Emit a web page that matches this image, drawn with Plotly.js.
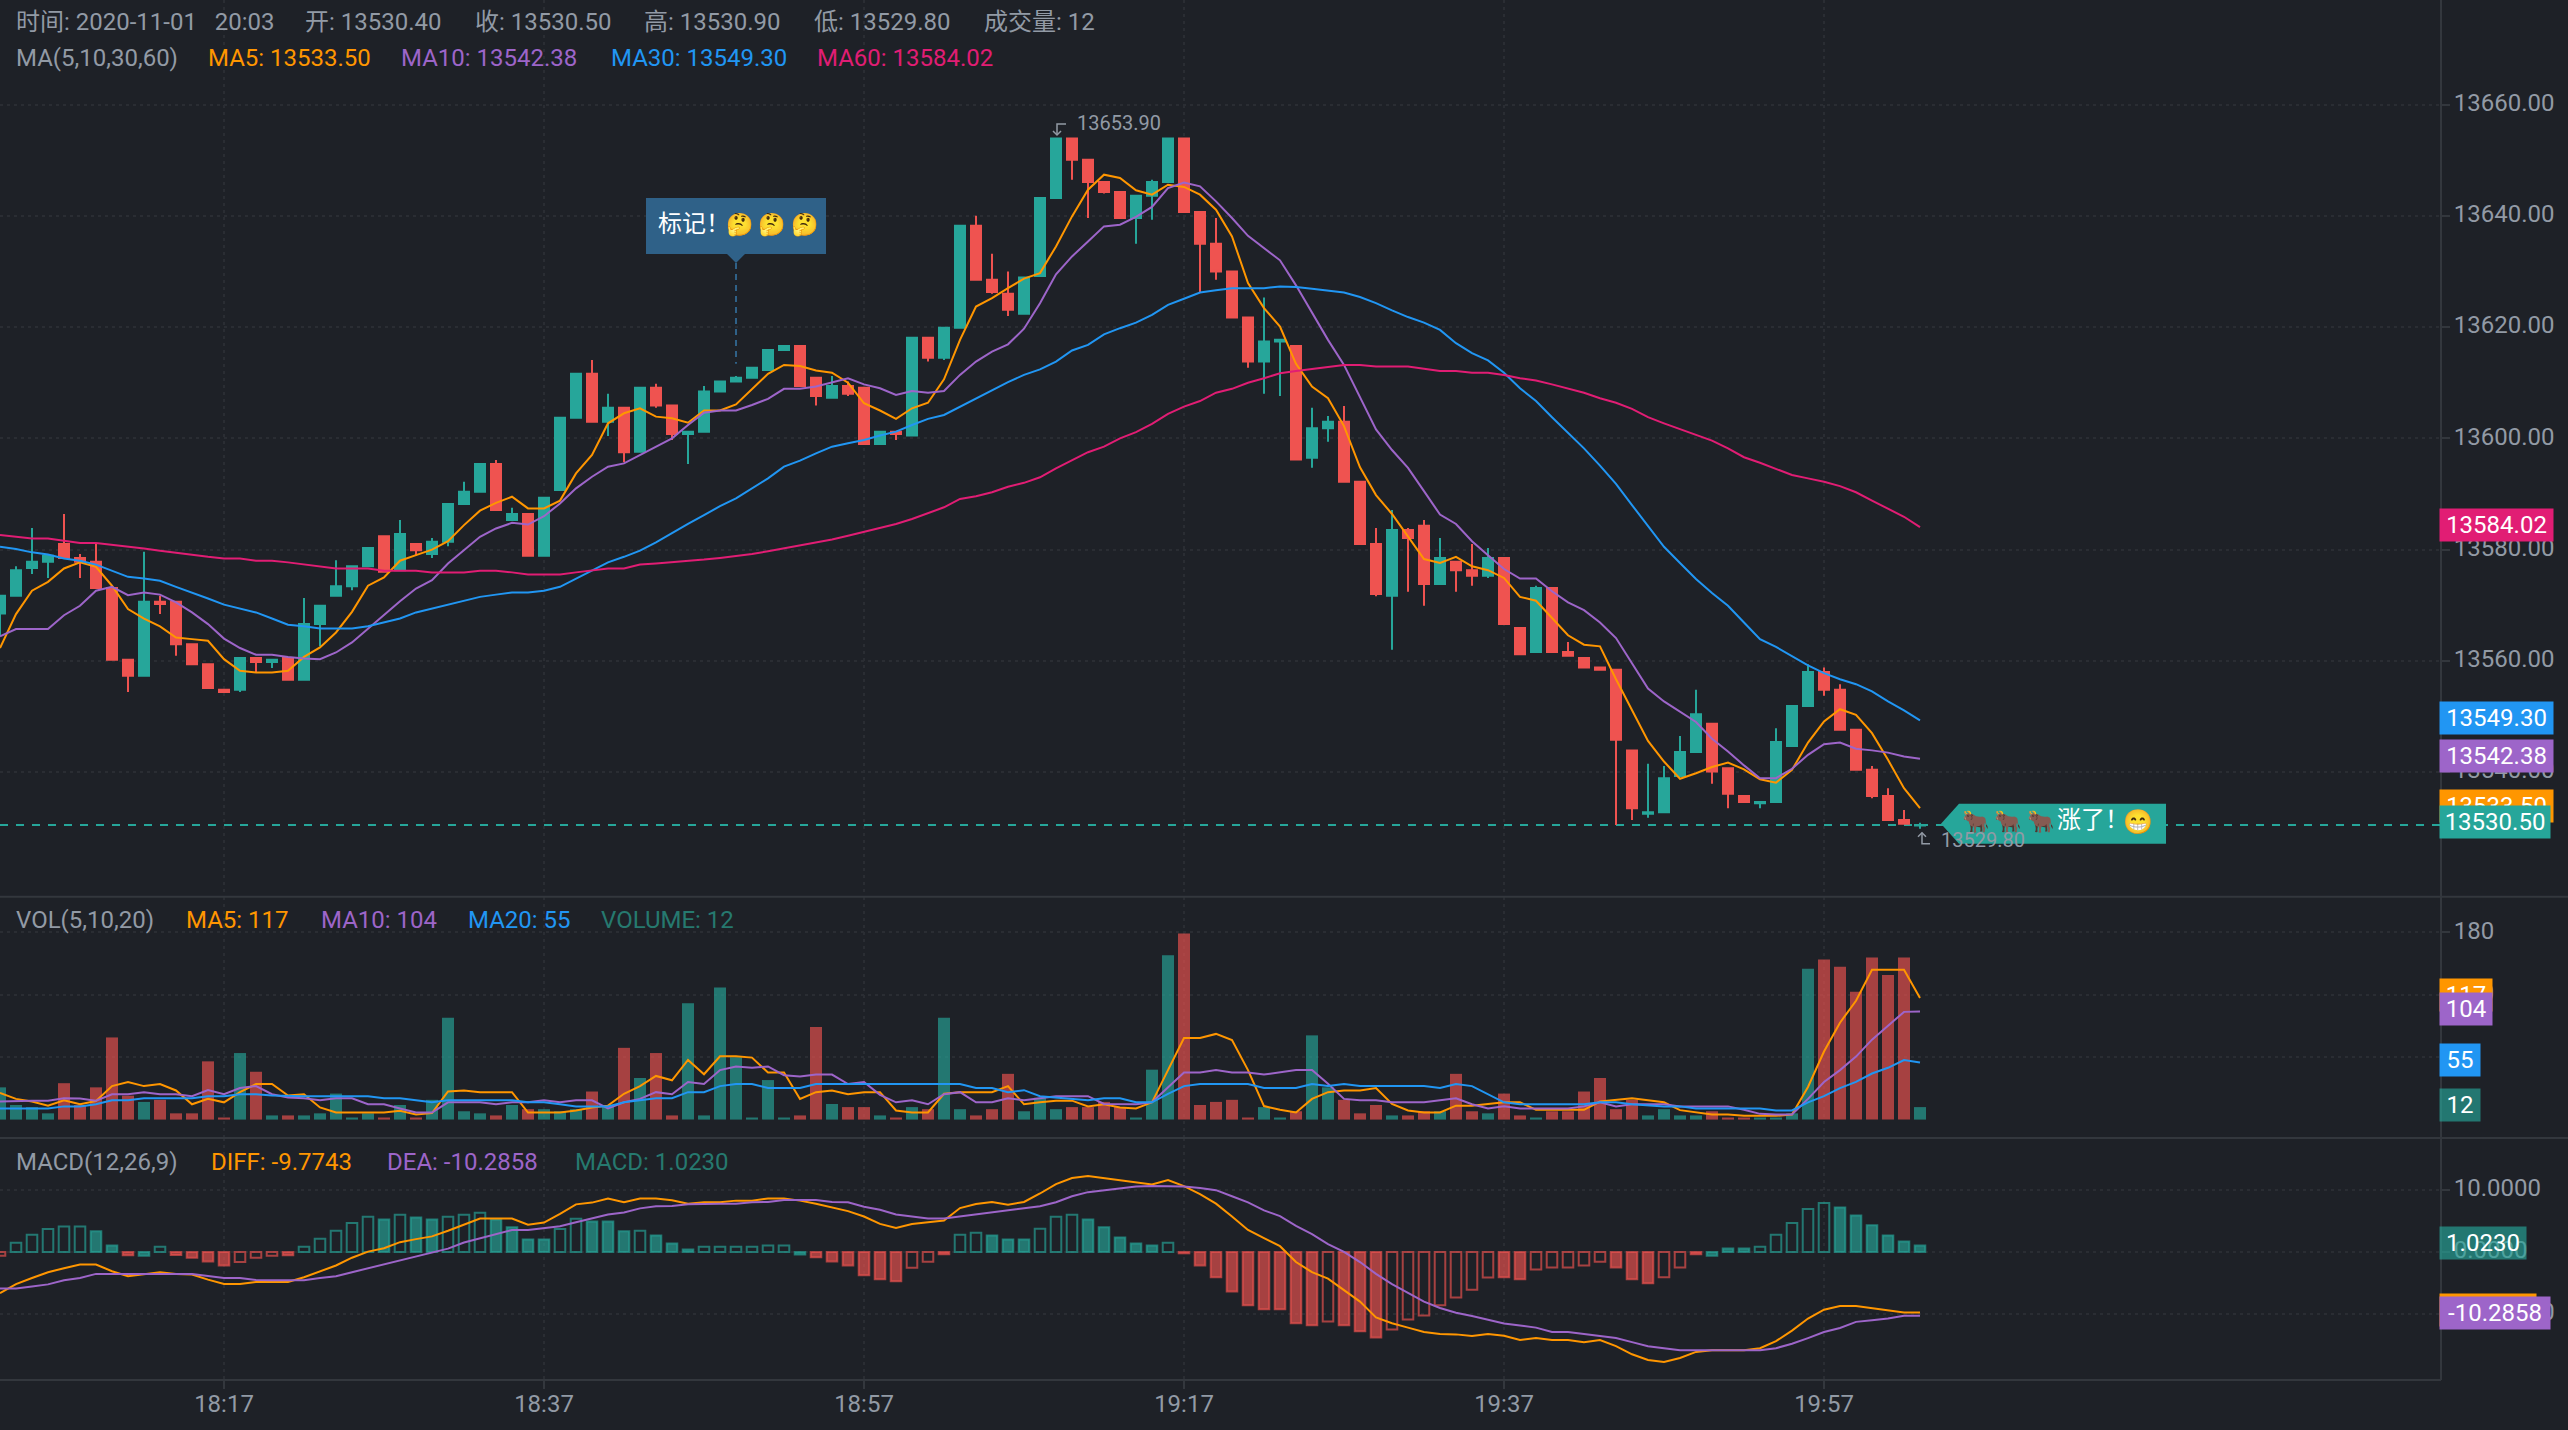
<!DOCTYPE html>
<html><head><meta charset="utf-8">
<script src="https://cdn.plot.ly/plotly-3.0.1.min.js"></script>
<style>html,body{margin:0;padding:0;background:#1E2127}#chart{width:2568px;height:1430px}</style>
</head><body><div id="chart"></div>
<script>
const times=["18:03","18:04","18:05","18:06","18:07","18:08","18:09","18:10","18:11","18:12","18:13","18:14","18:15","18:16","18:17","18:18","18:19","18:20","18:21","18:22","18:23","18:24","18:25","18:26","18:27","18:28","18:29","18:30","18:31","18:32","18:33","18:34","18:35","18:36","18:37","18:38","18:39","18:40","18:41","18:42","18:43","18:44","18:45","18:46","18:47","18:48","18:49","18:50","18:51","18:52","18:53","18:54","18:55","18:56","18:57","18:58","18:59","19:00","19:01","19:02","19:03","19:04","19:05","19:06","19:07","19:08","19:09","19:10","19:11","19:12","19:13","19:14","19:15","19:16","19:17","19:18","19:19","19:20","19:21","19:22","19:23","19:24","19:25","19:26","19:27","19:28","19:29","19:30","19:31","19:32","19:33","19:34","19:35","19:36","19:37","19:38","19:39","19:40","19:41","19:42","19:43","19:44","19:45","19:46","19:47","19:48","19:49","19:50","19:51","19:52","19:53","19:54","19:55","19:56","19:57","19:58","19:59","20:00","20:01","20:02","20:03"];
const timeTicks=["18:17","18:37","18:57","19:17","19:37","19:57"];
const open=[13568.5,13571.7,13576.7,13577.8,13581.0,13578.5,13577.8,13573.1,13560.2,13557.3,
13570.6,13570.6,13563.0,13559.4,13554.8,13554.8,13560.5,13559.8,13560.5,13556.6,
13566.6,13571.7,13573.4,13577.0,13582.4,13576.3,13581.0,13579.2,13581.4,13588.2,
13590.4,13595.4,13585.3,13586.4,13578.9,13590.7,13603.7,13611.6,13603.0,13605.5,
13597.6,13609.1,13605.9,13600.8,13601.2,13608.4,13610.2,13610.9,13612.3,13615.9,
13616.6,13610.9,13607.3,13609.4,13609.1,13599.0,13601.2,13600.5,13618.1,13614.5,
13619.9,13638.2,13628.5,13626.0,13622.4,13629.2,13643.2,13653.9,13650.1,13646.1,
13644.3,13639.6,13643.6,13646.1,13653.9,13640.7,13635.0,13630.0,13621.7,13613.8,
13617.4,13616.6,13596.5,13601.8,13603.0,13592.2,13581.0,13571.7,13583.5,13584.3,
13573.8,13577.8,13576.3,13575.3,13578.5,13565.9,13561.6,13573.1,13561.6,13560.5,
13558.8,13558.4,13543.9,13532.5,13532.8,13539.3,13543.6,13548.7,13540.7,13535.7,
13534.4,13534.6,13544.7,13551.9,13558.0,13554.8,13547.6,13540.4,13535.7,13531.4,13530.4];
const close=[13571.7,13576.3,13577.8,13578.9,13578.5,13577.8,13573.1,13560.2,13557.3,13570.6,
13570.2,13563.0,13559.4,13555.1,13554.4,13560.5,13559.8,13560.2,13556.6,13566.6,
13569.9,13573.4,13577.0,13580.3,13576.0,13582.8,13579.9,13581.4,13588.2,13590.4,
13595.4,13587.1,13586.4,13578.9,13589.3,13603.7,13611.6,13603.0,13605.5,13597.5,
13609.1,13605.9,13600.8,13601.2,13608.4,13610.2,13610.9,13612.7,13615.9,13616.6,
13609.4,13607.6,13609.4,13608.0,13599.0,13601.2,13600.8,13618.1,13614.5,13619.9,
13638.2,13628.5,13626.3,13623.1,13628.9,13643.2,13653.9,13650.1,13646.1,13644.3,
13639.6,13643.6,13646.1,13653.9,13640.7,13635.0,13630.0,13621.7,13613.8,13617.4,
13617.7,13596.2,13601.8,13603.0,13592.2,13581.0,13572.0,13583.5,13582.1,13573.8,
13578.5,13576.3,13575.3,13578.5,13566.6,13561.2,13573.1,13561.6,13560.9,13558.8,
13558.4,13545.8,13533.5,13532.8,13538.9,13543.6,13550.4,13540.1,13536.1,13534.6,
13534.6,13545.4,13551.9,13558.0,13554.8,13547.6,13540.4,13535.7,13531.4,13530.7,13530.5];
const high=[13571.7,13577.0,13583.9,13578.9,13586.4,13579.2,13581.0,13573.1,13560.2,13579.6,
13571.7,13570.6,13563.0,13559.4,13554.8,13560.5,13560.5,13560.2,13560.5,13571.3,
13569.9,13578.1,13577.0,13580.3,13582.4,13585.3,13581.0,13582.1,13588.2,13592.2,
13595.4,13596.1,13587.5,13586.4,13589.3,13603.7,13611.6,13614.1,13608.0,13605.5,
13609.1,13609.8,13605.9,13601.2,13609.4,13610.2,13611.2,13612.7,13615.9,13616.6,
13616.6,13610.9,13611.2,13610.2,13609.1,13601.2,13601.2,13618.1,13618.1,13619.9,
13638.2,13640.0,13633.2,13630.0,13628.9,13643.2,13653.9,13653.9,13650.1,13646.1,
13644.3,13643.6,13646.5,13653.9,13653.9,13640.7,13639.6,13630.0,13621.7,13625.3,
13617.7,13616.6,13605.5,13604.0,13605.8,13592.2,13583.9,13587.1,13583.9,13585.3,
13582.1,13577.8,13581.0,13580.3,13578.5,13565.9,13573.5,13573.1,13563.4,13560.5,
13558.8,13558.4,13543.9,13541.5,13541.1,13546.5,13554.8,13548.7,13540.7,13535.7,
13534.6,13547.9,13551.9,13559.4,13558.8,13555.8,13547.6,13541.1,13537.1,13533.2,13530.9];
const low=[13564.4,13571.7,13575.6,13574.9,13578.5,13574.9,13573.1,13560.2,13554.4,13557.3,
13568.4,13560.9,13559.4,13555.1,13554.4,13554.4,13558.0,13558.7,13556.6,13556.6,
13562.6,13571.7,13572.7,13577.0,13576.0,13576.3,13578.9,13578.5,13580.6,13588.2,
13590.4,13587.1,13585.3,13578.9,13578.9,13590.7,13603.7,13603.0,13600.4,13595.7,
13597.6,13605.5,13599.7,13595.4,13601.2,13608.4,13610.2,13610.9,13612.3,13615.9,
13609.4,13605.9,13607.3,13607.6,13599.0,13599.0,13599.7,13600.5,13613.8,13614.1,
13619.9,13628.5,13626.0,13622.0,13622.4,13629.2,13643.2,13646.5,13639.6,13644.0,
13639.6,13635.0,13639.3,13646.1,13640.7,13626.3,13628.5,13621.7,13612.7,13608.0,
13607.6,13596.2,13594.7,13599.4,13592.2,13581.0,13571.6,13562.0,13572.4,13569.9,
13573.8,13572.4,13573.5,13574.9,13566.6,13561.2,13561.6,13561.6,13560.9,13558.8,
13558.4,13530.5,13531.4,13531.8,13532.8,13539.3,13543.6,13537.9,13533.5,13534.6,
13533.5,13534.6,13544.7,13551.9,13553.7,13547.6,13540.4,13535.3,13531.4,13530.7,13529.8];
const ma5=[13562.3,13568.4,13572.6,13574.2,13576.6,13577.7,13576.9,13573.5,13569.3,13567.6,
13566.2,13564.2,13563.9,13563.6,13560.3,13558.2,13557.9,13557.9,13558.2,13560.7,
13562.4,13565.1,13568.8,13573.5,13575,13578,13579,13580,13581.5,13584.4,
13587,13588.4,13589.5,13587.4,13587.4,13588.8,13593.7,13597,13602.7,13604.5,
13605.4,13603.9,13603.6,13602.8,13605,13605,13606.1,13608.8,13611.6,13613.2,
13613,13612.2,13611.8,13610,13606.3,13605,13603.5,13605.4,13606.4,13610.6,
13617.7,13623.7,13625.2,13627,13628.7,13629.7,13634.5,13639.9,13644.7,13647.4,
13646.8,13644.6,13643.8,13645.6,13645.2,13643.8,13641.1,13636.3,13627.9,13623.4,
13620.1,13613.4,13609.3,13607.2,13602.2,13594.8,13589.8,13586.4,13582.4,13578.3,
13577.6,13578.7,13577,13576.3,13574.9,13571.5,13570.8,13567.7,13564.6,13562.9,
13562.6,13556.7,13551.1,13545.6,13541.9,13538.8,13539.8,13540.9,13541.7,13540.5,
13538.7,13538.1,13540.4,13545.3,13549.1,13551.3,13550.3,13547,13542.2,13537.1,13533.5];
const ma10=[13564.4,13565.7,13565.7,13565.7,13568.2,13569.9,13572.6,13573.3,13571.8,13572.3,
13571.9,13570.5,13568.7,13566.6,13564,13562.3,13561.1,13561.1,13560.7,13560.4,
13560.3,13561.5,13563.3,13565.8,13568.2,13570.7,13573,13574.5,13577.5,13579.9,
13582.3,13583.8,13584.8,13584.5,13586,13588.3,13591,13593.1,13594.9,13595.5,
13597,13598.5,13600,13602.4,13604.6,13605,13605,13606,13607.1,13608.9,
13608.9,13609.3,13610,13610.8,13609.7,13609,13607.8,13608.5,13608.2,13608.5,
13611.4,13613.8,13615.6,13616.9,13619.7,13624.3,13629.5,13632.7,13635.4,13638.1,
13638.4,13639.8,13641.6,13645,13646,13645.3,13642.6,13639.6,13636.4,13634.2,
13632,13627.5,13622.5,13617.7,13613.2,13607.5,13601.6,13597.9,13594.7,13590.5,
13586.3,13584.6,13581.5,13579,13576.5,13574.8,13574.8,13572.5,13570.5,13569.1,
13566.9,13564.1,13559.5,13555,13552.7,13550.9,13549,13546,13543.7,13541.2,
13538.9,13538.9,13540.6,13543.1,13545,13545.3,13544.2,13543.9,13543.5,13542.8,13542.38];
const ma30=[13580.5,13580.1,13579.5,13579.1,13578.4,13578,13577.3,13576.2,13575.1,13574.8,
13574.4,13573.3,13572.3,13571.2,13570.1,13569.4,13568.7,13567.6,13566.5,13566.2,
13565.8,13565.8,13565.8,13566.2,13566.9,13567.6,13568.7,13569.4,13570.1,13570.8,
13571.5,13571.9,13572.3,13572.3,13572.6,13573.3,13574.8,13576.2,13577.7,13578.7,
13579.8,13581.3,13583,13584.6,13586.2,13587.8,13589.2,13591,13592.8,13594.9,
13596,13597.3,13598.5,13599.1,13599.7,13600.5,13601.2,13602.4,13603.5,13604.2,
13605.7,13607.2,13608.7,13610.1,13611.4,13612.4,13613.8,13615.8,13616.8,13618.7,
13619.8,13620.8,13622.2,13624,13625.1,13626.2,13626.6,13627,13627,13627,
13627.3,13627.2,13626.9,13626.6,13626.2,13625.4,13624.3,13623,13621.8,13620.8,
13619.5,13617.1,13615.3,13614,13611.8,13609,13606.7,13603.8,13601,13598.2,
13595.1,13591.8,13588,13584.3,13580.5,13577.6,13574.7,13572.2,13569.9,13566.9,
13563.9,13562.5,13560.9,13559.2,13557.8,13556.7,13555.8,13554.5,13552.7,13551.1,13549.3];
const ma60=[13582.6,13582.3,13582,13582,13581.6,13581.2,13581.2,13580.9,13580.5,13580.2,
13579.8,13579.4,13579.1,13578.7,13578.4,13578.4,13578,13578,13577.7,13577.3,
13576.9,13576.6,13576.6,13576.6,13576.2,13576.2,13576.2,13575.9,13575.9,13575.9,
13576.2,13576.2,13575.9,13575.5,13575.5,13575.5,13575.9,13576.2,13576.6,13576.6,
13577.3,13577.5,13577.7,13578,13578.2,13578.5,13578.8,13579.2,13579.7,13580.2,
13580.7,13581.2,13581.8,13582.5,13583.2,13583.9,13584.6,13585.5,13586.5,13587.6,
13589.1,13589.6,13590.3,13591.3,13592,13593,13594.6,13596.1,13597.5,13598.5,
13600,13601.1,13602.6,13604.4,13605.7,13606.7,13608.2,13608.9,13610,13610.8,
13611.7,13612.1,13612.5,13612.9,13613.2,13613.2,13612.9,13612.9,13612.9,13612.5,
13612.1,13612.1,13611.8,13611.8,13611.4,13610.8,13610.4,13609.7,13608.9,13608.2,
13607.2,13606.4,13605.3,13603.8,13602.7,13601.7,13600.7,13599.6,13598.2,13596.6,
13595.6,13594.5,13593.4,13592.8,13592.2,13591.4,13590.3,13588.8,13587.4,13585.9,13584.02];
const volume=[31,14,12,6,35,14,31,79,23,17,19,6,6,56,2,64,46,4,4,4,
6,25,2,6,2,14,2,19,98,8,6,4,14,10,10,8,10,27,14,69,
40,64,4,112,4,127,60,2,38,2,4,89,15,12,12,4,2,12,10,98,
10,4,10,44,8,21,10,12,12,17,12,2,48,158,179,14,17,19,2,12,
2,8,81,31,19,6,14,4,4,8,8,44,8,6,25,4,2,8,8,27,
40,10,19,4,10,4,4,8,2,2,2,2,6,145,154,147,123,156,139,156,12];
const volMa5=[25.7,19.9,17.3,13.4,18.6,14.7,17.9,32.2,36.2,32.2,34.2,28,14.7,19.9,16.6,26.4,34.2,34.2,23.1,24.4,
11.7,6.8,6.8,6.8,6.8,8.5,4.9,6.2,27,28,26.4,26.4,26.4,6.8,6.8,6.8,8.8,11.7,13.4,24.8,
32.2,42,37.8,57.3,43.6,60.9,60.9,59.6,45.3,45.3,19.9,26.4,28,24.4,26.4,26.4,8.8,6.8,6.8,24.8,
26.4,26.4,26.4,32.2,14.7,16.6,18.2,18.2,12.7,14.7,11.7,10.7,16.6,47.6,78.5,78.5,82.4,76.5,47.6,13,
9.4,6.8,19.9,26.4,28,28,30.3,15,8.8,6.8,6.8,13.4,13.4,15,16.6,16.6,9.4,9.4,9.4,9.4,
17.3,19.2,20.5,18.6,16.6,9.1,6.8,4.9,4.9,3.6,3.6,3.6,4.9,31.3,65.5,93.2,114.3,144,144,144,117];
const volMa10=[17.3,17.9,18.2,18.2,20.5,20.2,18.2,24.4,24.4,26.4,24.4,24.4,22.5,28.3,24.4,30.3,32.2,24.4,21.2,20.5,
18.6,20.5,20.5,14.7,14.7,10.7,6.8,6.8,16.6,16.6,16.6,14.7,16.6,16.6,18.6,16.6,18.6,18.6,10.7,16.6,
19.9,26.4,24.4,36.2,34.2,47.6,51.1,49.8,51.1,42.7,41.4,43.3,43.3,34.2,36.2,23.8,16.6,18.6,14.7,24.4,
26.4,16.6,16.6,20.5,18.6,20.5,22.5,22.5,22.5,15,14.7,14.7,16.6,31.3,45.3,45.3,47.6,45.3,45.3,43.3,
45.3,47.6,47.6,34.5,19.9,18.6,18.6,16.6,16.6,16.6,18.6,20.5,14.7,10.7,12.7,10.7,10.7,10.7,10.7,12.7,
16.6,12.7,14.7,14.7,14.7,12.7,12.7,12.7,12.7,9.4,5.5,4.9,4.9,19.9,36.2,47.6,60.6,76.9,89.9,103.6,104];
const volMa20=[10.7,10.7,10.7,10.7,12.7,12.7,14.7,18.6,18.6,20.5,20.5,20.5,20.5,22.5,22.5,24.4,24.4,23.1,22.5,22.5,
22.5,22.5,22.5,22.5,20.5,20.5,18.6,16.6,18.6,18.6,18.6,18.6,18.6,16.6,16.6,14.7,12.7,12.7,12.7,16.6,
18.6,20.5,20.5,26.4,26.4,32.2,34.2,34.2,30.3,30.3,30.3,34.2,34.2,34.2,34.2,34.2,34.2,34.2,34.2,34.2,
34.2,30.3,30.3,26.4,28.3,22.5,21.2,20.5,18.6,20.5,20.5,16.6,16.6,24.8,32.2,34.2,34.2,34.2,34.2,30.3,
30.3,30.3,34.2,32.2,34.2,32.2,32.2,32.2,32.2,32.2,30.3,34.2,32.2,24.4,16.6,14.7,14.7,14.7,14.7,14.7,
16.6,16.6,14.7,13.4,12.7,12.7,10.7,10.7,10.7,10.7,10.7,8.8,8.8,16.6,22.5,30.3,36.2,44.3,49.8,57.3,55];
const macdDiff=[-6.65,-5.18,-4.2,-3.27,-2.62,-2.02,-2.02,-3.11,-3.92,-3.65,-3.27,-3.54,-3.65,-4.47,-5.18,-5.18,-4.85,-4.85,-4.85,-4.09,
-3.11,-2.18,-0.93,0.05,0.6,1.58,2.07,2.51,3.43,4.41,5.4,5.4,5.4,4.41,4.74,6.16,7.68,7.96,8.61,8.01,
8.61,8.61,8.34,7.79,8.01,8.01,8.28,8.28,8.61,8.61,8.28,7.79,7.14,6.59,5.72,4.52,3.87,4.52,4.8,5.07,
7.08,7.74,8.07,7.63,8.07,9.43,10.95,11.93,12.26,11.93,11.61,11.28,10.9,11.61,10.63,9.32,7.79,5.72,3.54,2.23,
0.93,-1.63,-3.27,-4.31,-6.1,-8.01,-10.57,-11.5,-12.21,-12.92,-13.24,-13.3,-13.57,-13.24,-13.51,-14.22,-13.9,-14.22,-14.22,-14.55,
-14.22,-15.2,-16.51,-17.44,-17.77,-17.11,-16.13,-15.86,-15.86,-15.86,-15.53,-14.39,-12.7,-10.74,-9.32,-8.72,-8.72,-9.05,-9.37,-9.75,-9.7743];
const macdDea=[-5.89,-5.89,-5.56,-5.23,-4.58,-4.2,-3.54,-3.54,-3.54,-3.54,-3.43,-3.54,-3.54,-3.87,-4.2,-4.2,-4.52,-4.58,-4.58,-4.58,
-4.2,-3.92,-3.27,-2.62,-1.96,-1.31,-0.65,0,0.54,1.53,2.18,2.83,3.54,3.54,3.87,4.14,4.8,5.45,6.05,6.38,
7.03,7.36,7.41,7.68,7.79,7.79,7.79,8.01,8.07,8.39,8.39,8.39,8.07,8.01,7.3,6.81,6.05,5.72,5.4,5.4,
5.72,6.05,6.38,6.7,7.03,7.36,8.01,8.99,9.65,9.97,10.25,10.57,10.63,10.63,10.57,10.3,9.97,8.99,8.01,6.7,
5.78,4.2,2.89,1.25,0,-1.63,-3.54,-5.18,-6.54,-8.01,-9.05,-9.81,-10.35,-11.01,-11.55,-11.88,-12.21,-12.92,-12.92,-13.24,
-13.57,-13.9,-14.55,-15.2,-15.53,-15.86,-15.86,-15.86,-15.86,-15.86,-15.86,-15.53,-14.82,-13.9,-12.92,-12.26,-11.28,-11.01,-10.74,-10.3,-10.2858];
const macdHist=[-0.6,1.47,2.78,3.71,4.09,4.09,3.32,1.04,-0.54,-0.6,0.82,-0.5,-0.93,-1.53,-2.18,-1.63,-0.93,-0.6,-0.54,0.82,
2.13,3.43,4.69,5.67,5.23,5.99,5.56,5.23,5.67,5.99,6.32,5.23,3.98,2.02,2.02,3.71,5.34,4.9,4.9,3.32,
3.43,2.67,1.36,0.38,0.82,0.82,0.82,0.82,1.04,1.04,-0.4,-0.87,-1.53,-2.18,-3.76,-4.41,-4.74,-2.56,-1.58,-0.38,
2.78,3.11,2.67,2.02,2.02,3.76,5.67,5.99,5.23,3.98,2.34,1.36,1.04,1.47,-0.22,-2.18,-4.09,-6.38,-8.61,-9.26,
-9.26,-11.5,-11.83,-11.23,-11.83,-12.81,-13.79,-12.53,-10.9,-10.25,-8.61,-7.36,-6.1,-4.14,-4.09,-4.41,-2.83,-2.51,-2.51,-2.18,
-1.58,-2.51,-4.41,-5.07,-4.09,-2.51,-0.38,-0.6,0.54,0.54,0.82,2.78,4.69,6.92,7.9,7.19,5.89,4.31,2.67,1.69,1.023];
// upper case = filled bar, lower case = hollow bar; G/g green, R/r red
const macdStyle="rgggggGGRGgRRRRrrrRgggggGgGGgggGGGGggGGGgGGGggggggGRRRRRRrrRggGGGgggGGGGGgRRRRRRRRRrRRRrrrrrrrRRrrrrrRRRrrRGGGgggggGGGGGG";
const priceTicks=[13540,13560,13580,13600,13620,13640,13660];
const volTicks=[60,120,180];
const macdTicks=[-10,0,10];

const BG='#1E2127',UP='#26A69A',DOWN='#EF5350',UPA='rgba(38,166,154,0.65)',DOWNA='rgba(239,83,80,0.65)';
const C5='#FF9600',C10='#9D65C9',C30='#2196F3',C60='#E11D74',TXT='#929AA5',TEAL='#26796F';
const GRID='#2A2D33',RULE='#33373D';
const FONT='Roboto, "Noto Sans CJK SC", sans-serif';
const W=2441,H=1380.5,MAIN=897,VOL=1138.5;
const X=p=>p/W, Y=p=>1-p/H;

const line=(y,color,yaxis,name)=>({type:'scatter',mode:'lines',x:times,y,name,yaxis,line:{color,width:2},hoverinfo:'skip'});
const isUp=close.map((c,i)=>c>=open[i]);
const histGreen=[...macdStyle].map(s=>s==='G'||s==='g');
const histFilled=[...macdStyle].map(s=>s==='G'||s==='R');
const traces=[
 {type:'candlestick',x:times,open,high,low,close,yaxis:'y',
  increasing:{line:{color:UP,width:2},fillcolor:UP},decreasing:{line:{color:DOWN,width:2},fillcolor:DOWN},whiskerwidth:0,hoverinfo:'skip'},
 line(ma5,C5,'y','MA5'),line(ma10,C10,'y','MA10'),line(ma30,C30,'y','MA30'),line(ma60,C60,'y','MA60'),
 {type:'bar',x:times,y:volume,yaxis:'y2',width:0.75,marker:{color:isUp.map(u=>u?UPA:DOWNA),line:{width:0}},hoverinfo:'skip'},
 line(volMa5,C5,'y2','VMA5'),line(volMa10,C10,'y2','VMA10'),line(volMa20,C30,'y2','VMA20'),
 {type:'bar',x:times,y:macdHist,yaxis:'y3',width:0.66,
  marker:{color:histGreen.map((g,i)=>histFilled[i]?(g?UPA:DOWNA):'rgba(0,0,0,0)'),
          line:{color:histGreen.map(g=>g?UPA:DOWNA),width:2}},hoverinfo:'skip'},
 line(macdDiff,C5,'y3','DIFF'),line(macdDea,C10,'y3','DEA')
];

const text=(t,px,py,color,size)=>({text:t,xref:'paper',yref:'paper',x:X(px-2),y:Y(py),xanchor:'left',yanchor:'middle',showarrow:false,font:{family:FONT,size:size||24,color}});
const mid=(t,px,py,size,color)=>({text:t,xref:'paper',yref:'paper',x:X(px),y:Y(py),xanchor:'center',yanchor:'middle',showarrow:false,font:{family:FONT,size,color:color||'#fff'}});
const tag=(t,v,yref,w,bg)=>({text:t,xref:'paper',yref,x:X(2439),y:v,yshift:2.5,xanchor:'left',yanchor:'middle',showarrow:false,width:w,height:32,align:'center',borderpad:0,bgcolor:bg,font:{family:FONT,size:24,color:'#fff'}});
const last=a=>a[a.length-1];
const annotations=[
 text('时间: 2020-11-01\u00A0\u00A0 20:03',16,22,TXT),text('开: 13530.40',305,22,TXT),text('收: 13530.50',475,22,TXT),
 text('高: 13530.90',644,22,TXT),text('低: 13529.80',814,22,TXT),text('成交量: 12',984,22,TXT),
 text('MA(5,10,30,60)',16,58,TXT),text('MA5: 13533.50',208,58,C5),text('MA10: 13542.38',401,58,C10),
 text('MA30: 13549.30',611,58,C30),text('MA60: 13584.02',817,58,C60),
 text('VOL(5,10,20)',16,920,TXT),text('MA5: 117',186,920,C5),text('MA10: 104',321,920,C10),
 text('MA20: 55',468,920,C30),text('VOLUME: 12',601,920,TEAL),
 text('MACD(12,26,9)',16,1162,TXT),text('DIFF: -9.7743',211,1162,C5),text('DEA: -10.2858',387,1162,C10),text('MACD: 1.0230',575,1162,TEAL),
 tag('13584.02',last(ma60),'y',113,C60),tag('13549.30',last(ma30),'y',113,C30),tag('13542.38',last(ma10),'y',113,C10),
 tag('13533.50',last(ma5),'y',113,C5),tag('13530.50',last(close),'y',110,UP),
 tag('117',last(volMa5),'y2',52,C5),tag('104',last(volMa10),'y2',52,C10),tag('55',last(volMa20),'y2',40,C30),tag('12',last(volume),'y2',40,UPA),
 tag('1.0230',last(macdHist),'y3',86,UPA),tag('-9.7743',last(macdDiff),'y3',96,C5),tag('-10.2858',last(macdDea),'y3',110,C10),
 text('13653.90',1077,123,TXT,20),
 text('标记！',658,224,'#fff',24),
 mid('🤔 🤔 🤔',772,225,22),
 text('🐂 🐂 🐂',1962,822,'#fff',22),
 text('涨了！',2057,820,'#fff',24),
 mid('😁',2138,822,24),
 text('13529.80',1941,840,TXT,20)
];
const rule=(x0,y0,x1,y1)=>({type:'line',xref:'paper',yref:'paper',x0:X(x0),y0:Y(y0),x1:X(x1),y1:Y(y1),line:{color:RULE,width:2}});
const poly=(pts,fill)=>({type:'path',xref:'paper',yref:'paper',layer:'above',path:'M'+pts.map(p=>X(p[0])+','+Y(p[1])).join(' L')+' Z',fillcolor:fill,line:{width:0}});
const arrow=(pts)=>({type:'path',xref:'paper',yref:'paper',layer:'above',path:'M'+pts.map(p=>X(p[0])+','+Y(p[1])).join(' L'),line:{color:TXT,width:1.5}});
const shapes=[
 rule(0,897,2568,897),rule(0,1138.5,2568,1138.5),rule(0,1380.5,2441,1380.5),rule(2441,0,2441,1380.5),
 {type:'line',xref:'paper',yref:'y',x0:0,x1:1,y0:last(close),y1:last(close),layer:'below',line:{color:UP,width:2,dash:'8px,8px'}},
 poly([[646,198],[826,198],[826,254],[745,254],[736,263],[727,254],[646,254]],'#2F6188'),
 {type:'line',xref:'paper',yref:'paper',layer:'above',x0:X(736),x1:X(736),y0:Y(263),y1:Y(364),line:{color:'#2F6188',width:2,dash:'6px,5px'}},
 poly([[1941,824],[1959,804],[2166,804],[2166,844],[1959,844]],UP),
 arrow([[1066,124],[1057,124],[1057,135]]),arrow([[1053,131],[1057,135],[1061,131]]),
 arrow([[1930,844],[1922,844],[1922,833]]),arrow([[1918,837],[1922,833],[1926,837]])
];
const yax=(domain,range,tickvals,fmt)=>({domain,range,tickmode:'array',tickvals,tickformat:fmt,side:'right',anchor:'x',
 showline:false,zeroline:false,showgrid:true,gridcolor:GRID,gridwidth:2,griddash:'3px,4px',ticks:'outside',ticklen:8,tickwidth:2,tickcolor:RULE,
 ticklabelshift:-2,ticklabelstandoff:-1,
 tickfont:{family:FONT,size:24,color:TXT},fixedrange:true});
const layout={width:2568,height:1430,margin:{l:0,r:127,t:0,b:49.5,pad:0},paper_bgcolor:BG,plot_bgcolor:BG,showlegend:false,
 hovermode:false,boxgap:0.375,boxgroupgap:0,bargap:0.25,barmode:'overlay',
 xaxis:{type:'category',categoryorder:'array',categoryarray:times,range:[0,W/16],anchor:'y3',tickmode:'array',tickvals:timeTicks,
  rangeslider:{visible:false},showline:false,zeroline:false,showgrid:true,gridcolor:GRID,gridwidth:2,griddash:'3px,4px',ticks:'outside',ticklen:8,tickwidth:2,tickcolor:RULE,
  ticklabelstandoff:-6,
  tickfont:{family:FONT,size:24,color:TXT},fixedrange:true},
 yaxis:yax([1-MAIN/H,1],[13517.6,13678.8],priceTicks,'.2f'),
 yaxis2:yax([1-VOL/H,1-MAIN/H],[-17.8,214.4],volTicks,'d'),
 yaxis3:yax([0,1-VOL/H],[-20.66,18.37],macdTicks,'.4f'),
 annotations,shapes};
Plotly.newPlot('chart',traces,layout,{staticPlot:true,displayModeBar:false});
</script></body></html>
